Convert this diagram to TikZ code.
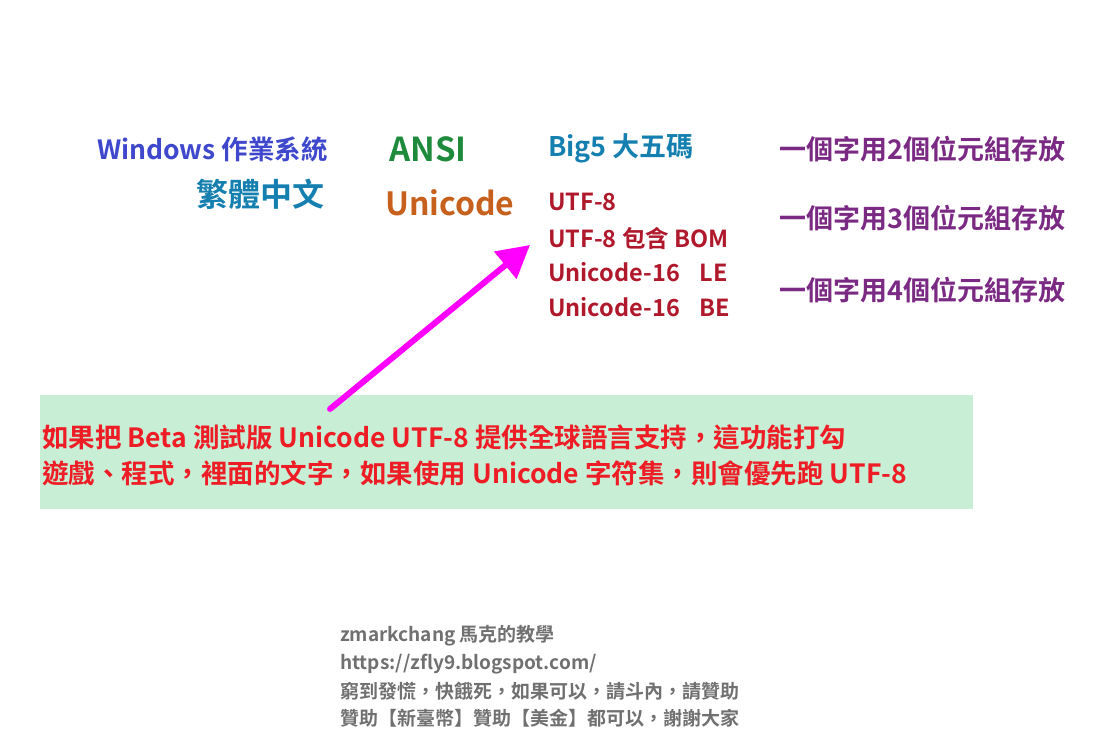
\documentclass[tikz,border=0pt]{standalone}
\usepackage{fontspec}
\setmainfont{Noto Sans CJK TC}[BoldFont={Noto Sans CJK TC Bold}]
\usetikzlibrary{arrows.meta}
\definecolor{cwin}{HTML}{3F48CC}
\definecolor{cteal}{HTML}{1580B0}
\definecolor{cgreen}{HTML}{1E8A3C}
\definecolor{corange}{HTML}{C6601C}
\definecolor{cdred}{HTML}{B0182C}
\definecolor{cpurple}{HTML}{7B2A84}
\definecolor{cbox}{HTML}{C8EED6}
\definecolor{cred}{HTML}{EE1C25}
\definecolor{cgray}{HTML}{707070}
\definecolor{cmag}{HTML}{FF00FF}
\tikzset{
 t/.style={inner sep=0pt,font=\bfseries\fontsize{26.5}{30}\selectfont},
 u/.style={t,anchor=west,text=cdred,font=\bfseries\fontsize{23.5}{28}\selectfont},
 r/.style={t,anchor=west,text=cpurple,font=\bfseries\fontsize{27}{30}\selectfont},
 red/.style={t,anchor=west,text=cred,font=\bfseries\fontsize{26.5}{30}\selectfont},
 ft/.style={inner sep=0pt,anchor=west,text=cgray,font=\bfseries\fontsize{19}{22}\selectfont}
}
\begin{document}
\begin{tikzpicture}[x=1pt,y=-1pt]
\useasboundingbox (0,0) rectangle (1107,749);
\fill[cbox] (40,395) rectangle (973,509);
\node[t,anchor=east,text=cwin] (win) at (328,149) {Windows 作業系統};
\node[t,anchor=east,text=cteal,font=\bfseries\fontsize{32}{36}\selectfont] (zh) at (325,194) {繁體中文};
\node[t,anchor=west,text=cgreen,font=\bfseries\fontsize{33}{36}\selectfont] (ansi) at (389,149) {ANSI};
\node[t,anchor=west,text=corange,font=\bfseries\fontsize{32}{36}\selectfont] (uni) at (385,203) {Unicode};
\node[t,anchor=west,text=cteal,font=\bfseries\fontsize{27}{30}\selectfont] (big5) at (548,148) {Big5 大五碼};
\node[u] (u1) at (548,202) {UTF-8};
\node[u] (u2) at (548,238) {UTF-8 包含 BOM};
\node[u] (u3) at (548,272) {Unicode-16\hspace{20pt}LE};
\node[u] (u4) at (548,307) {Unicode-16\hspace{20pt}BE};
\node[r] (r1) at (779,149) {一個字用2個位元組存放};
\node[r] (r2) at (779,218) {一個字用3個位元組存放};
\node[r] (r3) at (779,290) {一個字用4個位元組存放};
\node[red] (l1) at (42,437) {如果把 Beta 測試版 Unicode UTF-8 提供全球語言支持，這功能打勾};
\node[red] (l2) at (42,473) {遊戲、程式，裡面的文字，如果使用 Unicode 字符集，則會優先跑 UTF-8};
\coordinate (as) at (330,409);
\coordinate (ae) at (530,245);
\draw[cmag,line width=6pt,line cap=round,-{Triangle[length=32pt,width=34pt]}] (as) -- (ae);
\node[ft] (f1) at (340,636) {zmarkchang 馬克的教學};
\node[ft] (f2) at (340,664) {https://zfly9.blogspot.com/};
\node[ft] (f3) at (340,691) {窮到發慌，快餓死，如果可以，請斗內，請贊助};
\node[ft] (f4) at (340,718) {贊助【新臺幣】贊助【美金】都可以，謝謝大家};
\end{tikzpicture}
\end{document}
